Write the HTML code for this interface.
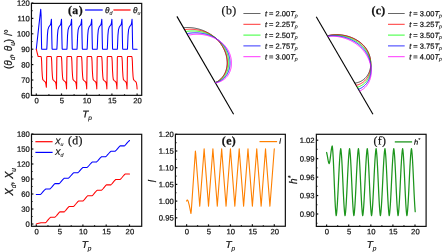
<!DOCTYPE html>
<html lang="en"><head><meta charset="utf-8"><title>Droplet on vibrated inclined plane</title>
<style>html,body{margin:0;padding:0;background:#fff;}body{width:448px;height:252px;overflow:hidden;}svg{display:block;}</style>
</head><body>
<svg width="448" height="252" viewBox="0 0 448 252">
<rect x="0" y="0" width="448" height="252" fill="#fff"/>
<g id="panel-a">
<polyline points="36.3,49.2 38.57,28.41 40.74,9.16 41.09,15.32 41.34,33.8 41.64,48.74 41.84,49.2 46.78,49.2 47.04,44.58 47.39,35.34 47.89,29.95 48.65,27.33 49.66,25.79 50.41,24.87 50.92,23.02 51.42,19.17 51.57,24.56 51.82,38.42 52.08,48.58 52.23,49.2 56.86,49.2 57.12,44.58 57.47,35.34 57.97,29.95 58.73,27.33 59.74,25.79 60.49,24.87 61,23.02 61.5,19.17 61.65,24.56 61.9,38.42 62.16,48.58 62.31,49.2 66.94,49.2 67.2,44.58 67.55,35.34 68.05,29.95 68.81,27.33 69.82,25.79 70.57,24.87 71.08,23.02 71.58,19.17 71.73,24.56 71.98,38.42 72.24,48.58 72.39,49.2 77.02,49.2 77.28,44.58 77.63,35.34 78.13,29.95 78.89,27.33 79.9,25.79 80.65,24.87 81.16,23.02 81.66,19.17 81.81,24.56 82.06,38.42 82.32,48.58 82.47,49.2 87.1,49.2 87.36,44.58 87.71,35.34 88.21,29.95 88.97,27.33 89.98,25.79 90.73,24.87 91.24,23.02 91.74,19.17 91.89,24.56 92.14,38.42 92.4,48.58 92.55,49.2 97.18,49.2 97.44,44.58 97.79,35.34 98.29,29.95 99.05,27.33 100.06,25.79 100.81,24.87 101.32,23.02 101.82,19.17 101.97,24.56 102.22,38.42 102.48,48.58 102.63,49.2 107.26,49.2 107.52,44.58 107.87,35.34 108.37,29.95 109.13,27.33 110.14,25.79 110.89,24.87 111.4,23.02 111.9,19.17 112.05,24.56 112.3,38.42 112.56,48.58 112.71,49.2 117.34,49.2 117.6,44.58 117.95,35.34 118.45,29.95 119.21,27.33 120.22,25.79 120.97,24.87 121.48,23.02 121.98,19.17 122.13,24.56 122.38,38.42 122.64,48.58 122.79,49.2 127.42,49.2 127.68,44.58 128.03,35.34 128.53,29.95 129.29,27.33 130.3,25.79 131.05,24.87 131.56,23.02 132.06,19.17 132.21,24.56 132.46,38.42 132.72,48.58 132.87,49.2 137.1,49.2" fill="none" stroke="#0000ff" stroke-width="1.05" stroke-linejoin="round" stroke-linecap="round"/>
<polyline points="36.3,49.2 37.06,52.28 37.81,55.36 38.22,56.59 41.09,56.59 41.34,57.52 41.64,61.52 41.94,69.99 42.35,76.46 42.75,79.38 43.36,80.31 44.36,81.08 45.17,81.85 45.62,82.77 45.98,84.62 46.23,86.78 46.38,87.24 46.53,80 46.78,57.52 46.98,56.59 51.17,56.59 51.42,57.52 51.72,61.52 52.02,69.99 52.43,76.46 52.83,79.38 53.44,80.31 54.44,81.08 55.25,81.85 55.7,82.77 56.06,84.62 56.31,86.78 56.46,88.93 56.61,80 56.86,57.52 57.06,56.59 61.25,56.59 61.5,57.52 61.8,61.52 62.1,69.99 62.51,76.46 62.91,79.38 63.52,80.31 64.52,81.08 65.33,81.85 65.78,82.77 66.14,84.62 66.39,86.78 66.54,88.93 66.69,80 66.94,57.52 67.14,56.59 71.33,56.59 71.58,57.52 71.88,61.52 72.18,69.99 72.59,76.46 72.99,79.38 73.6,80.31 74.6,81.08 75.41,81.85 75.86,82.77 76.22,84.62 76.47,86.78 76.62,88.93 76.77,80 77.02,57.52 77.22,56.59 81.41,56.59 81.66,57.52 81.96,61.52 82.26,69.99 82.67,76.46 83.07,79.38 83.68,80.31 84.68,81.08 85.49,81.85 85.94,82.77 86.3,84.62 86.55,86.78 86.7,88.93 86.85,80 87.1,57.52 87.3,56.59 91.49,56.59 91.74,57.52 92.04,61.52 92.34,69.99 92.75,76.46 93.15,79.38 93.76,80.31 94.76,81.08 95.57,81.85 96.02,82.77 96.38,84.62 96.63,86.78 96.78,88.93 96.93,80 97.18,57.52 97.38,56.59 101.57,56.59 101.82,57.52 102.12,61.52 102.42,69.99 102.83,76.46 103.23,79.38 103.84,80.31 104.84,81.08 105.65,81.85 106.1,82.77 106.46,84.62 106.71,86.78 106.86,88.93 107.01,80 107.26,57.52 107.46,56.59 111.65,56.59 111.9,57.52 112.2,61.52 112.5,69.99 112.91,76.46 113.31,79.38 113.92,80.31 114.92,81.08 115.73,81.85 116.18,82.77 116.54,84.62 116.79,86.78 116.94,88.93 117.09,80 117.34,57.52 117.54,56.59 121.73,56.59 121.98,57.52 122.28,61.52 122.58,69.99 122.99,76.46 123.39,79.38 124,80.31 125,81.08 125.81,81.85 126.26,82.77 126.62,84.62 126.87,86.78 127.02,88.93 127.17,80 127.42,57.52 127.62,56.59 131.81,56.59 132.06,57.52 132.36,61.52 132.66,69.99 133.07,76.46 133.47,79.38 134.08,80.31 135.08,81.08 135.89,81.85 136.34,82.77 136.7,84.62 136.95,86.78 137.1,88.93" fill="none" stroke="#ff0000" stroke-width="1.05" stroke-linejoin="round" stroke-linecap="round"/>
<rect x="31.45" y="3.4" width="110.25" height="91.95" fill="none" stroke="#101010" stroke-width="1.2"/>
<line x1="36.3" y1="95.35" x2="36.3" y2="93.45" stroke="#101010" stroke-width="1.2" stroke-linecap="butt"/>
<line x1="61.5" y1="95.35" x2="61.5" y2="93.45" stroke="#101010" stroke-width="1.2" stroke-linecap="butt"/>
<line x1="86.7" y1="95.35" x2="86.7" y2="93.45" stroke="#101010" stroke-width="1.2" stroke-linecap="butt"/>
<line x1="111.9" y1="95.35" x2="111.9" y2="93.45" stroke="#101010" stroke-width="1.2" stroke-linecap="butt"/>
<line x1="137.1" y1="95.35" x2="137.1" y2="93.45" stroke="#101010" stroke-width="1.2" stroke-linecap="butt"/>
<line x1="48.9" y1="95.35" x2="48.9" y2="94.25" stroke="#101010" stroke-width="1.2" stroke-linecap="butt"/>
<line x1="74.1" y1="95.35" x2="74.1" y2="94.25" stroke="#101010" stroke-width="1.2" stroke-linecap="butt"/>
<line x1="99.3" y1="95.35" x2="99.3" y2="94.25" stroke="#101010" stroke-width="1.2" stroke-linecap="butt"/>
<line x1="124.5" y1="95.35" x2="124.5" y2="94.25" stroke="#101010" stroke-width="1.2" stroke-linecap="butt"/>
<text x="36.7" y="103.25" font-family='"Liberation Sans", sans-serif' font-size="7.7" text-anchor="middle" fill="#111" stroke="#111" stroke-width="0.22" transform="rotate(0.03 36.7 103.25)">0</text>
<text x="61.9" y="103.25" font-family='"Liberation Sans", sans-serif' font-size="7.7" text-anchor="middle" fill="#111" stroke="#111" stroke-width="0.22" transform="rotate(0.03 61.9 103.25)">5</text>
<text x="87.1" y="103.25" font-family='"Liberation Sans", sans-serif' font-size="7.7" text-anchor="middle" fill="#111" stroke="#111" stroke-width="0.22" transform="rotate(0.03 87.1 103.25)">10</text>
<text x="112.3" y="103.25" font-family='"Liberation Sans", sans-serif' font-size="7.7" text-anchor="middle" fill="#111" stroke="#111" stroke-width="0.22" transform="rotate(0.03 112.3 103.25)">15</text>
<text x="137.5" y="103.25" font-family='"Liberation Sans", sans-serif' font-size="7.7" text-anchor="middle" fill="#111" stroke="#111" stroke-width="0.22" transform="rotate(0.03 137.5 103.25)">20</text>
<line x1="31.45" y1="95.4" x2="33.35" y2="95.4" stroke="#101010" stroke-width="1.2" stroke-linecap="butt"/>
<line x1="31.45" y1="80" x2="33.35" y2="80" stroke="#101010" stroke-width="1.2" stroke-linecap="butt"/>
<line x1="31.45" y1="64.6" x2="33.35" y2="64.6" stroke="#101010" stroke-width="1.2" stroke-linecap="butt"/>
<line x1="31.45" y1="49.2" x2="33.35" y2="49.2" stroke="#101010" stroke-width="1.2" stroke-linecap="butt"/>
<line x1="31.45" y1="33.8" x2="33.35" y2="33.8" stroke="#101010" stroke-width="1.2" stroke-linecap="butt"/>
<line x1="31.45" y1="18.4" x2="33.35" y2="18.4" stroke="#101010" stroke-width="1.2" stroke-linecap="butt"/>
<line x1="31.45" y1="3" x2="33.35" y2="3" stroke="#101010" stroke-width="1.2" stroke-linecap="butt"/>
<line x1="31.45" y1="87.7" x2="32.55" y2="87.7" stroke="#101010" stroke-width="1.2" stroke-linecap="butt"/>
<line x1="31.45" y1="72.3" x2="32.55" y2="72.3" stroke="#101010" stroke-width="1.2" stroke-linecap="butt"/>
<line x1="31.45" y1="56.9" x2="32.55" y2="56.9" stroke="#101010" stroke-width="1.2" stroke-linecap="butt"/>
<line x1="31.45" y1="41.5" x2="32.55" y2="41.5" stroke="#101010" stroke-width="1.2" stroke-linecap="butt"/>
<line x1="31.45" y1="26.1" x2="32.55" y2="26.1" stroke="#101010" stroke-width="1.2" stroke-linecap="butt"/>
<line x1="31.45" y1="10.7" x2="32.55" y2="10.7" stroke="#101010" stroke-width="1.2" stroke-linecap="butt"/>
<text x="29.75" y="98.2" font-family='"Liberation Sans", sans-serif' font-size="7.7" text-anchor="end" fill="#111" stroke="#111" stroke-width="0.22" transform="rotate(0.03 29.75 98.2)">60</text>
<text x="29.75" y="82.8" font-family='"Liberation Sans", sans-serif' font-size="7.7" text-anchor="end" fill="#111" stroke="#111" stroke-width="0.22" transform="rotate(0.03 29.75 82.8)">70</text>
<text x="29.75" y="67.4" font-family='"Liberation Sans", sans-serif' font-size="7.7" text-anchor="end" fill="#111" stroke="#111" stroke-width="0.22" transform="rotate(0.03 29.75 67.4)">80</text>
<text x="29.75" y="52" font-family='"Liberation Sans", sans-serif' font-size="7.7" text-anchor="end" fill="#111" stroke="#111" stroke-width="0.22" transform="rotate(0.03 29.75 52)">90</text>
<text x="29.75" y="36.6" font-family='"Liberation Sans", sans-serif' font-size="7.7" text-anchor="end" fill="#111" stroke="#111" stroke-width="0.22" transform="rotate(0.03 29.75 36.6)">100</text>
<text x="29.75" y="21.2" font-family='"Liberation Sans", sans-serif' font-size="7.7" text-anchor="end" fill="#111" stroke="#111" stroke-width="0.22" transform="rotate(0.03 29.75 21.2)">110</text>
<text x="29.75" y="5.8" font-family='"Liberation Sans", sans-serif' font-size="7.7" text-anchor="end" fill="#111" stroke="#111" stroke-width="0.22" transform="rotate(0.03 29.75 5.8)">120</text>
<text x="87.1" y="117.4" font-family='"Liberation Sans", sans-serif' font-size="10" font-style="italic" text-anchor="middle" fill="#111" stroke="#111" stroke-width="0.22" transform="rotate(0.03 87.1 117.4)">T<tspan font-size="6.5" dy="2.5" stroke-width="0.12">p</tspan></text>
<text x="12.4" y="49.2" font-family='"Liberation Sans", sans-serif' font-size="10" text-anchor="middle" fill="#111" stroke="#111" stroke-width="0.22" transform="rotate(-90 12.4 49.2)">(<tspan font-style="italic">θ</tspan><tspan font-style="italic" font-size="6.4" dy="3" stroke-width="0.12">d</tspan><tspan dy="-3" font-size="1">&#8203;</tspan>, <tspan font-style="italic">θ</tspan><tspan font-style="italic" font-size="6.4" dy="3" stroke-width="0.12">u</tspan><tspan dy="-3" font-size="1">&#8203;</tspan>) /°</text>
<text x="68" y="13.9" font-family='"Liberation Serif", serif' font-size="11.8" letter-spacing="0.4" fill="#111" font-weight="bold" stroke="#111" stroke-width="0.25" transform="rotate(0.03 68 13.9)">(a)</text>
<line x1="85.1" y1="10" x2="102.7" y2="10" stroke="#0000ff" stroke-width="1.2" stroke-linecap="butt"/>
<text x="105.1" y="13" font-family='"Liberation Sans", sans-serif' font-size="8.2" font-style="italic" fill="#111" stroke="#111" stroke-width="0.22" transform="rotate(0.03 105.1 13)">θ<tspan font-size="5.25" dy="1.8" stroke-width="0.1">d</tspan></text>
<line x1="113.4" y1="10" x2="130.6" y2="10" stroke="#ff0000" stroke-width="1.2" stroke-linecap="butt"/>
<text x="133" y="13" font-family='"Liberation Sans", sans-serif' font-size="8.2" font-style="italic" fill="#111" stroke="#111" stroke-width="0.22" transform="rotate(0.03 133 13)">θ<tspan font-size="5.25" dy="1.8" stroke-width="0.1">u</tspan></text>
</g>
<g id="panel-b">
<line x1="176.9" y1="16.4" x2="233.6" y2="114.3" stroke="#000" stroke-width="1.1" stroke-linecap="butt"/>
<polyline points="183.79,27.71 184.34,27.66 184.88,27.62 185.42,27.59 185.97,27.56 186.52,27.55 187.06,27.54 187.61,27.53 188.15,27.54 188.7,27.55 189.24,27.57 189.79,27.6 190.33,27.63 190.88,27.67 191.42,27.72 191.96,27.77 192.51,27.83 193.05,27.9 193.59,27.98 194.13,28.06 194.67,28.15 195.2,28.25 195.74,28.35 196.27,28.46 196.81,28.58 197.34,28.7 197.87,28.83 198.4,28.96 198.92,29.11 199.45,29.26 199.97,29.41 200.49,29.58 201.01,29.75 201.53,29.92 202.04,30.11 202.55,30.29 203.06,30.49 203.57,30.69 204.07,30.9 204.58,31.11 205.07,31.33 205.57,31.56 206.06,31.8 206.55,32.04 207.04,32.28 207.53,32.53 208.01,32.79 208.48,33.06 208.96,33.33 209.43,33.61 209.89,33.89 210.36,34.18 210.81,34.47 211.27,34.78 211.72,35.08 212.17,35.4 212.61,35.72 213.05,36.04 213.48,36.38 213.91,36.71 214.33,37.06 214.75,37.41 215.16,37.76 215.57,38.12 215.98,38.49 216.37,38.87 216.77,39.24 217.15,39.63 217.54,40.02 217.91,40.41 218.28,40.82 218.65,41.22 219,41.63 219.35,42.05 219.7,42.47 220.04,42.9 220.37,43.34 220.69,43.77 221.01,44.22 221.32,44.67 221.63,45.12 221.93,45.58 222.22,46.04 222.5,46.51 222.77,46.98 223.04,47.45 223.3,47.93 223.55,48.42 223.79,48.91 224.03,49.4 224.26,49.89 224.48,50.39 224.69,50.9 224.89,51.4 225.09,51.91 225.28,52.42 225.45,52.94 225.63,53.46 225.79,53.98 225.94,54.5 226.09,55.03 226.22,55.56 226.35,56.09 226.47,56.62 226.58,57.16 226.68,57.69 226.77,58.23 226.85,58.77 226.92,59.31 226.98,59.85 227.03,60.4 227.08,60.94 227.11,61.49 227.13,62.03 227.14,62.58 227.14,63.12 227.13,63.67 227.11,64.21 227.08,64.76 227.03,65.3 226.98,65.84 226.91,66.39 226.83,66.93 226.74,67.46 226.64,68 226.52,68.53 226.39,69.06 226.25,69.59 226.1,70.12 225.93,70.64 225.76,71.15 225.57,71.66 225.36,72.17 225.15,72.67 224.92,73.17 224.68,73.65 224.42,74.14 224.16,74.61 223.88,75.08 223.58,75.54 223.28,76 222.96,76.44 222.63,76.87 222.29,77.3 221.94,77.72 221.57,78.12 221.2,78.52 220.81,78.9 220.41,79.28 220,79.64 219.59,79.99 219.16,80.33 218.72,80.66 218.28,80.97 217.82,81.27 217.36,81.56 216.89,81.84 216.41,82.11 215.93,82.36 215.44,82.6" fill="none" stroke="#000000" stroke-width="0.7" stroke-linejoin="round" stroke-linecap="butt"/>
<polyline points="184.92,29.61 185.46,29.54 186,29.48 186.54,29.43 187.08,29.38 187.63,29.35 188.17,29.32 188.71,29.3 189.26,29.28 189.8,29.27 190.35,29.27 190.89,29.28 191.44,29.3 191.98,29.32 192.52,29.35 193.07,29.38 193.61,29.42 194.15,29.47 194.68,29.52 195.22,29.58 195.75,29.65 196.28,29.72 196.81,29.79 197.34,29.88 197.87,29.96 198.39,30.06 198.91,30.16 199.43,30.27 199.95,30.38 200.47,30.5 200.98,30.63 201.49,30.76 202,30.9 202.5,31.05 203.01,31.2 203.51,31.36 204.01,31.53 204.5,31.7 204.99,31.88 205.48,32.06 205.97,32.26 206.45,32.46 206.93,32.66 207.4,32.87 207.88,33.09 208.35,33.32 208.81,33.55 209.27,33.79 209.73,34.04 210.19,34.29 210.64,34.55 211.09,34.81 211.53,35.09 211.97,35.37 212.41,35.65 212.84,35.95 213.27,36.25 213.69,36.55 214.11,36.87 214.52,37.19 214.93,37.52 215.34,37.85 215.74,38.19 216.13,38.54 216.53,38.89 216.91,39.25 217.29,39.62 217.67,39.99 218.04,40.37 218.41,40.76 218.77,41.15 219.12,41.55 219.47,41.95 219.82,42.36 220.16,42.78 220.49,43.2 220.82,43.63 221.14,44.07 221.46,44.51 221.77,44.96 222.07,45.41 222.37,45.87 222.66,46.33 222.94,46.8 223.21,47.27 223.48,47.75 223.74,48.23 223.99,48.71 224.23,49.2 224.46,49.69 224.69,50.19 224.91,50.69 225.12,51.2 225.32,51.7 225.51,52.21 225.69,52.73 225.87,53.24 226.04,53.76 226.2,54.28 226.35,54.81 226.49,55.34 226.62,55.87 226.74,56.4 226.86,56.93 226.96,57.47 227.06,58 227.14,58.54 227.22,59.08 227.28,59.62 227.34,60.17 227.39,60.71 227.42,61.25 227.45,61.8 227.46,62.34 227.47,62.89 227.46,63.43 227.45,63.98 227.42,64.52 227.38,65.07 227.33,65.61 227.26,66.15 227.19,66.69 227.1,67.23 227,67.76 226.89,68.3 226.77,68.83 226.63,69.36 226.48,69.88 226.32,70.4 226.15,70.92 225.96,71.43 225.76,71.94 225.55,72.44 225.33,72.93 225.09,73.42 224.84,73.91 224.58,74.39 224.3,74.85 224.01,75.32 223.71,75.77 223.4,76.22 223.07,76.65 222.73,77.08 222.38,77.5 222.02,77.9 221.65,78.3 221.27,78.68 220.87,79.06 220.47,79.42 220.05,79.77 219.63,80.11 219.19,80.44 218.75,80.76 218.3,81.06 217.84,81.35 217.37,81.63 216.9,81.89 216.42,82.15 215.93,82.39 215.44,82.61" fill="none" stroke="#ff0000" stroke-width="0.85" stroke-linejoin="round" stroke-linecap="butt"/>
<polyline points="186.04,31.52 186.58,31.43 187.12,31.34 187.65,31.27 188.2,31.21 188.74,31.15 189.28,31.1 189.82,31.06 190.36,31.02 190.91,31 191.45,30.98 192,30.97 192.54,30.97 193.09,30.97 193.63,30.98 194.17,31 194.71,31.02 195.25,31.06 195.79,31.09 196.33,31.14 196.87,31.19 197.41,31.24 197.94,31.31 198.47,31.38 199.01,31.45 199.54,31.53 200.06,31.62 200.59,31.72 201.11,31.82 201.64,31.93 202.16,32.05 202.68,32.17 203.19,32.3 203.71,32.43 204.22,32.58 204.73,32.72 205.23,32.88 205.74,33.04 206.24,33.21 206.74,33.39 207.24,33.57 207.73,33.76 208.22,33.96 208.71,34.16 209.19,34.37 209.67,34.59 210.15,34.81 210.63,35.04 211.1,35.28 211.57,35.52 212.03,35.77 212.49,36.03 212.95,36.3 213.4,36.57 213.85,36.85 214.29,37.13 214.73,37.43 215.17,37.73 215.6,38.03 216.03,38.35 216.45,38.67 216.87,39 217.28,39.33 217.69,39.67 218.09,40.02 218.49,40.38 218.88,40.74 219.27,41.11 219.65,41.48 220.02,41.87 220.39,42.26 220.76,42.65 221.11,43.05 221.46,43.46 221.81,43.88 222.15,44.3 222.48,44.73 222.8,45.16 223.12,45.6 223.43,46.05 223.74,46.5 224.03,46.96 224.32,47.43 224.6,47.89 224.87,48.37 225.13,48.85 225.39,49.33 225.63,49.82 225.87,50.31 226.09,50.81 226.31,51.31 226.52,51.81 226.72,52.32 226.91,52.83 227.09,53.34 227.27,53.86 227.43,54.38 227.58,54.9 227.73,55.43 227.86,55.96 227.99,56.49 228.11,57.02 228.21,57.55 228.31,58.09 228.4,58.63 228.47,59.17 228.54,59.71 228.6,60.25 228.64,60.79 228.68,61.34 228.71,61.88 228.72,62.42 228.72,62.97 228.71,63.51 228.7,64.06 228.67,64.6 228.62,65.14 228.57,65.68 228.5,66.22 228.43,66.76 228.34,67.3 228.23,67.83 228.12,68.36 227.99,68.89 227.85,69.42 227.7,69.94 227.53,70.46 227.35,70.97 227.16,71.48 226.95,71.98 226.74,72.48 226.5,72.97 226.26,73.45 226,73.93 225.73,74.4 225.45,74.86 225.15,75.31 224.85,75.76 224.52,76.2 224.19,76.62 223.85,77.04 223.49,77.45 223.12,77.84 222.74,78.23 222.35,78.6 221.95,78.96 221.53,79.31 221.11,79.65 220.68,79.97 220.24,80.28 219.79,80.58 219.33,80.86 218.86,81.13 218.39,81.39 217.91,81.63 217.42,81.86 216.93,82.08 216.43,82.28 215.92,82.47 215.41,82.65" fill="none" stroke="#00ff00" stroke-width="0.85" stroke-linejoin="round" stroke-linecap="butt"/>
<polyline points="187.3,33.65 187.83,33.54 188.37,33.43 188.9,33.33 189.44,33.25 189.98,33.17 190.52,33.09 191.06,33.03 191.6,32.98 192.15,32.93 192.69,32.89 193.23,32.86 193.78,32.84 194.32,32.82 194.87,32.81 195.41,32.81 195.95,32.82 196.5,32.83 197.04,32.85 197.58,32.87 198.12,32.9 198.66,32.94 199.19,32.99 199.73,33.04 200.27,33.1 200.8,33.17 201.33,33.24 201.86,33.32 202.39,33.41 202.92,33.5 203.45,33.6 203.97,33.71 204.5,33.82 205.02,33.94 205.53,34.07 206.05,34.2 206.56,34.34 207.08,34.49 207.59,34.65 208.09,34.81 208.6,34.98 209.1,35.15 209.6,35.34 210.09,35.53 210.59,35.72 211.08,35.93 211.57,36.14 212.05,36.36 212.53,36.58 213.01,36.81 213.48,37.05 213.95,37.3 214.42,37.55 214.88,37.82 215.34,38.08 215.79,38.36 216.24,38.64 216.69,38.93 217.13,39.23 217.57,39.54 218,39.85 218.42,40.17 218.85,40.49 219.26,40.83 219.68,41.17 220.08,41.52 220.48,41.87 220.88,42.24 221.26,42.61 221.65,42.98 222.02,43.37 222.39,43.76 222.76,44.16 223.11,44.57 223.46,44.98 223.8,45.4 224.14,45.82 224.47,46.26 224.79,46.7 225.1,47.14 225.4,47.6 225.7,48.06 225.99,48.52 226.26,48.99 226.53,49.47 226.79,49.95 227.04,50.43 227.28,50.92 227.51,51.42 227.73,51.92 227.94,52.42 228.14,52.93 228.33,53.44 228.51,53.95 228.68,54.47 228.84,54.99 228.99,55.52 229.13,56.04 229.26,56.57 229.38,57.1 229.49,57.64 229.59,58.17 229.69,58.71 229.77,59.25 229.83,59.79 229.89,60.33 229.94,60.87 229.98,61.42 230,61.96 230.02,62.51 230.02,63.05 230.02,63.6 230,64.14 229.97,64.68 229.92,65.23 229.87,65.77 229.8,66.31 229.72,66.85 229.63,67.38 229.53,67.92 229.41,68.45 229.28,68.97 229.13,69.5 228.98,70.02 228.81,70.54 228.63,71.05 228.43,71.55 228.22,72.06 227.99,72.55 227.76,73.04 227.51,73.52 227.24,73.99 226.97,74.46 226.68,74.92 226.38,75.37 226.06,75.81 225.73,76.24 225.39,76.66 225.04,77.08 224.67,77.48 224.3,77.86 223.91,78.24 223.51,78.61 223.1,78.96 222.67,79.3 222.24,79.62 221.8,79.94 221.35,80.23 220.89,80.52 220.42,80.79 219.95,81.04 219.46,81.29 218.97,81.51 218.48,81.72 217.97,81.92 217.47,82.1 216.95,82.27 216.44,82.42 215.91,82.56 215.39,82.68" fill="none" stroke="#0000ff" stroke-width="0.85" stroke-linejoin="round" stroke-linecap="butt"/>
<polyline points="188.29,35.33 188.82,35.19 189.35,35.07 189.89,34.95 190.42,34.85 190.96,34.75 191.5,34.66 192.04,34.58 192.58,34.51 193.12,34.45 193.66,34.39 194.2,34.34 194.75,34.3 195.29,34.27 195.84,34.25 196.38,34.23 196.93,34.23 197.47,34.23 198.02,34.23 198.57,34.25 199.11,34.27 199.66,34.3 200.2,34.34 200.74,34.38 201.29,34.44 201.83,34.49 202.37,34.56 202.91,34.63 203.45,34.71 203.99,34.8 204.53,34.9 205.06,35 205.6,35.11 206.13,35.22 206.66,35.35 207.19,35.48 207.72,35.62 208.25,35.76 208.77,35.91 209.29,36.07 209.81,36.23 210.33,36.41 210.85,36.59 211.36,36.77 211.87,36.97 212.38,37.17 212.88,37.37 213.38,37.59 213.88,37.81 214.38,38.04 214.87,38.28 215.36,38.52 215.84,38.77 216.32,39.03 216.8,39.29 217.27,39.57 217.74,39.85 218.2,40.13 218.66,40.43 219.12,40.73 219.57,41.04 220.01,41.36 220.45,41.68 220.88,42.01 221.31,42.35 221.73,42.7 222.15,43.05 222.55,43.41 222.96,43.78 223.35,44.16 223.74,44.54 224.12,44.93 224.49,45.33 224.86,45.73 225.22,46.15 225.57,46.57 225.91,46.99 226.24,47.42 226.56,47.86 226.88,48.31 227.18,48.76 227.48,49.22 227.76,49.69 228.03,50.16 228.3,50.64 228.55,51.12 228.8,51.61 229.03,52.1 229.25,52.6 229.46,53.1 229.67,53.61 229.86,54.12 230.04,54.63 230.21,55.15 230.37,55.67 230.52,56.2 230.65,56.73 230.78,57.26 230.9,57.79 231,58.33 231.1,58.86 231.18,59.4 231.25,59.94 231.32,60.49 231.37,61.03 231.41,61.57 231.44,62.12 231.45,62.66 231.46,63.21 231.45,63.75 231.43,64.3 231.4,64.84 231.36,65.39 231.3,65.93 231.23,66.47 231.15,67.01 231.06,67.55 230.95,68.08 230.83,68.62 230.7,69.15 230.55,69.67 230.39,70.19 230.22,70.71 230.03,71.22 229.83,71.73 229.62,72.23 229.39,72.73 229.14,73.21 228.89,73.7 228.62,74.17 228.33,74.64 228.03,75.09 227.72,75.54 227.4,75.98 227.06,76.41 226.71,76.83 226.35,77.23 225.97,77.63 225.58,78.01 225.18,78.38 224.77,78.74 224.35,79.09 223.92,79.42 223.47,79.74 223.02,80.04 222.56,80.33 222.09,80.6 221.61,80.86 221.12,81.1 220.62,81.33 220.12,81.54 219.61,81.74 219.09,81.91 218.57,82.08 218.05,82.22 217.52,82.35 216.98,82.47 216.45,82.57 215.91,82.65 215.37,82.72" fill="none" stroke="#ff00ff" stroke-width="0.85" stroke-linejoin="round" stroke-linecap="butt"/>
<text x="221.6" y="14.3" font-family='"Liberation Serif", serif' font-size="11.8" letter-spacing="0.4" fill="#111" stroke="#111" stroke-width="0.2" transform="rotate(0.03 221.6 14.3)">(b)</text>
<line x1="243.4" y1="13.5" x2="260.5" y2="13.5" stroke="#000000" stroke-width="0.6" stroke-linecap="butt"/>
<text x="264.9" y="16.3" font-family='"Liberation Sans", sans-serif' font-size="7.5" fill="#111" stroke="#111" stroke-width="0.22" transform="rotate(0.03 264.9 16.3)"><tspan font-style="italic">t</tspan> = 2.00<tspan font-style="italic">T</tspan><tspan font-style="italic" font-size="5.25" dy="1.2" stroke-width="0.1">p</tspan></text>
<line x1="243.4" y1="24.3" x2="260.5" y2="24.3" stroke="#ff0000" stroke-width="0.8" stroke-linecap="butt"/>
<text x="264.9" y="27.1" font-family='"Liberation Sans", sans-serif' font-size="7.5" fill="#111" stroke="#111" stroke-width="0.22" transform="rotate(0.03 264.9 27.1)"><tspan font-style="italic">t</tspan> = 2.25<tspan font-style="italic">T</tspan><tspan font-style="italic" font-size="5.25" dy="1.2" stroke-width="0.1">p</tspan></text>
<line x1="243.4" y1="35.1" x2="260.5" y2="35.1" stroke="#00ff00" stroke-width="0.8" stroke-linecap="butt"/>
<text x="264.9" y="37.9" font-family='"Liberation Sans", sans-serif' font-size="7.5" fill="#111" stroke="#111" stroke-width="0.22" transform="rotate(0.03 264.9 37.9)"><tspan font-style="italic">t</tspan> = 2.50<tspan font-style="italic">T</tspan><tspan font-style="italic" font-size="5.25" dy="1.2" stroke-width="0.1">p</tspan></text>
<line x1="243.4" y1="45.9" x2="260.5" y2="45.9" stroke="#0000ff" stroke-width="0.8" stroke-linecap="butt"/>
<text x="264.9" y="48.7" font-family='"Liberation Sans", sans-serif' font-size="7.5" fill="#111" stroke="#111" stroke-width="0.22" transform="rotate(0.03 264.9 48.7)"><tspan font-style="italic">t</tspan> = 2.75<tspan font-style="italic">T</tspan><tspan font-style="italic" font-size="5.25" dy="1.2" stroke-width="0.1">p</tspan></text>
<line x1="243.4" y1="56.7" x2="260.5" y2="56.7" stroke="#ff00ff" stroke-width="0.8" stroke-linecap="butt"/>
<text x="264.9" y="59.5" font-family='"Liberation Sans", sans-serif' font-size="7.5" fill="#111" stroke="#111" stroke-width="0.22" transform="rotate(0.03 264.9 59.5)"><tspan font-style="italic">t</tspan> = 3.00<tspan font-style="italic">T</tspan><tspan font-style="italic" font-size="5.25" dy="1.2" stroke-width="0.1">p</tspan></text>
</g>
<g id="panel-c">
<line x1="316.25" y1="16.8" x2="372.95" y2="114.3" stroke="#000" stroke-width="1.1" stroke-linecap="butt"/>
<polyline points="327.64,35.73 328.17,35.59 328.7,35.47 329.24,35.35 329.77,35.25 330.31,35.15 330.85,35.06 331.39,34.98 331.93,34.91 332.47,34.85 333.01,34.79 333.55,34.74 334.1,34.7 334.64,34.67 335.19,34.65 335.73,34.63 336.28,34.63 336.82,34.63 337.37,34.63 337.92,34.65 338.46,34.67 339.01,34.7 339.55,34.74 340.09,34.78 340.64,34.84 341.18,34.89 341.72,34.96 342.26,35.03 342.8,35.11 343.34,35.2 343.88,35.3 344.41,35.4 344.95,35.51 345.48,35.62 346.01,35.75 346.54,35.88 347.07,36.02 347.6,36.16 348.12,36.31 348.64,36.47 349.16,36.63 349.68,36.81 350.2,36.99 350.71,37.17 351.22,37.37 351.73,37.57 352.23,37.77 352.73,37.99 353.23,38.21 353.73,38.44 354.22,38.68 354.71,38.92 355.19,39.17 355.67,39.43 356.15,39.69 356.62,39.97 357.09,40.25 357.55,40.53 358.01,40.83 358.47,41.13 358.92,41.44 359.36,41.76 359.8,42.08 360.23,42.41 360.66,42.75 361.08,43.1 361.5,43.45 361.9,43.81 362.31,44.18 362.7,44.56 363.09,44.94 363.47,45.33 363.84,45.73 364.21,46.13 364.57,46.55 364.92,46.97 365.26,47.39 365.59,47.82 365.91,48.26 366.23,48.71 366.53,49.16 366.83,49.62 367.11,50.09 367.38,50.56 367.65,51.04 367.9,51.52 368.15,52.01 368.38,52.5 368.6,53 368.81,53.5 369.02,54.01 369.21,54.52 369.39,55.03 369.56,55.55 369.72,56.07 369.87,56.6 370,57.13 370.13,57.66 370.25,58.19 370.35,58.73 370.45,59.26 370.53,59.8 370.6,60.34 370.67,60.89 370.72,61.43 370.76,61.97 370.79,62.52 370.8,63.06 370.81,63.61 370.8,64.15 370.78,64.7 370.75,65.24 370.71,65.79 370.65,66.33 370.58,66.87 370.5,67.41 370.41,67.95 370.3,68.48 370.18,69.02 370.05,69.55 369.9,70.07 369.74,70.59 369.57,71.11 369.38,71.62 369.18,72.13 368.97,72.63 368.74,73.13 368.49,73.61 368.24,74.1 367.97,74.57 367.68,75.04 367.38,75.49 367.07,75.94 366.75,76.38 366.41,76.81 366.06,77.23 365.7,77.63 365.32,78.03 364.93,78.41 364.53,78.78 364.12,79.14 363.7,79.49 363.27,79.82 362.82,80.14 362.37,80.44 361.91,80.73 361.44,81 360.96,81.26 360.47,81.5 359.97,81.73 359.47,81.94 358.96,82.14 358.44,82.31 357.92,82.48 357.4,82.62 356.87,82.75 356.33,82.87 355.8,82.97 355.26,83.05 354.72,83.12" fill="none" stroke="#000000" stroke-width="0.7" stroke-linejoin="round" stroke-linecap="butt"/>
<polyline points="327.66,35.77 328.19,35.65 328.72,35.53 329.26,35.42 329.79,35.32 330.33,35.23 330.87,35.15 331.41,35.07 331.95,35.01 332.49,34.95 333.04,34.9 333.58,34.86 334.13,34.83 334.67,34.8 335.21,34.78 335.76,34.77 336.31,34.77 336.85,34.78 337.4,34.79 337.94,34.81 338.49,34.84 339.03,34.87 339.57,34.92 340.12,34.97 340.66,35.02 341.2,35.09 341.74,35.16 342.28,35.24 342.82,35.32 343.36,35.41 343.89,35.51 344.43,35.62 344.96,35.74 345.49,35.86 346.02,35.98 346.55,36.12 347.08,36.26 347.6,36.41 348.12,36.57 348.65,36.73 349.16,36.9 349.68,37.07 350.19,37.26 350.7,37.45 351.21,37.65 351.72,37.85 352.22,38.06 352.72,38.28 353.22,38.51 353.71,38.74 354.2,38.98 354.69,39.23 355.17,39.48 355.65,39.74 356.12,40.01 356.59,40.29 357.06,40.57 357.52,40.86 357.98,41.16 358.43,41.46 358.88,41.78 359.32,42.1 359.76,42.42 360.19,42.76 360.61,43.1 361.03,43.45 361.45,43.8 361.85,44.17 362.25,44.54 362.65,44.91 363.03,45.3 363.41,45.69 363.79,46.09 364.15,46.5 364.51,46.91 364.85,47.33 365.19,47.76 365.52,48.2 365.85,48.65 366.16,49.1 366.46,49.56 366.75,50.02 367.04,50.5 367.31,50.98 367.58,51.46 367.83,51.96 368.07,52.45 368.31,52.96 368.53,53.47 368.74,53.98 368.94,54.5 369.14,55.02 369.32,55.55 369.49,56.08 369.65,56.61 369.8,57.15 369.95,57.69 370.08,58.24 370.2,58.78 370.31,59.33 370.41,59.88 370.5,60.44 370.58,60.99 370.65,61.55 370.71,62.11 370.76,62.66 370.8,63.22 370.83,63.79 370.84,64.35 370.85,64.91 370.84,65.47 370.83,66.03 370.8,66.59 370.76,67.15 370.71,67.71 370.65,68.27 370.57,68.82 370.49,69.37 370.39,69.92 370.28,70.47 370.16,71.02 370.02,71.56 369.87,72.09 369.71,72.63 369.54,73.16 369.35,73.68 369.15,74.2 368.94,74.71 368.71,75.21 368.47,75.71 368.22,76.2 367.95,76.68 367.67,77.16 367.38,77.62 367.08,78.08 366.76,78.53 366.43,78.96 366.09,79.39 365.74,79.8 365.37,80.2 364.99,80.59 364.6,80.97 364.2,81.34 363.78,81.69 363.36,82.02 362.92,82.35 362.48,82.65 362.02,82.95 361.56,83.22 361.09,83.49 360.61,83.74 360.12,83.97 359.62,84.19 359.12,84.39 358.62,84.58 358.11,84.76 357.59,84.91 357.07,85.06 356.55,85.19 356.02,85.3" fill="none" stroke="#ff0000" stroke-width="0.85" stroke-linejoin="round" stroke-linecap="butt"/>
<polyline points="327.74,35.95 328.27,35.85 328.81,35.75 329.35,35.67 329.88,35.6 330.42,35.53 330.97,35.47 331.51,35.42 332.05,35.38 332.59,35.34 333.14,35.31 333.68,35.3 334.23,35.28 334.77,35.28 335.31,35.28 335.86,35.29 336.4,35.31 336.95,35.34 337.49,35.37 338.03,35.41 338.58,35.46 339.12,35.52 339.66,35.58 340.2,35.65 340.74,35.72 341.28,35.81 341.81,35.9 342.35,36 342.89,36.1 343.42,36.21 343.95,36.33 344.48,36.45 345.01,36.59 345.54,36.73 346.06,36.87 346.58,37.02 347.1,37.18 347.62,37.35 348.14,37.52 348.66,37.7 349.17,37.89 349.68,38.08 350.18,38.28 350.69,38.49 351.19,38.7 351.69,38.92 352.18,39.15 352.68,39.38 353.16,39.62 353.65,39.87 354.13,40.13 354.61,40.39 355.08,40.65 355.56,40.93 356.02,41.21 356.49,41.5 356.94,41.79 357.4,42.1 357.85,42.4 358.29,42.72 358.73,43.04 359.17,43.37 359.59,43.71 360.02,44.05 360.44,44.4 360.85,44.76 361.26,45.12 361.66,45.49 362.05,45.87 362.44,46.25 362.82,46.64 363.2,47.04 363.56,47.44 363.92,47.85 364.28,48.27 364.62,48.69 364.96,49.12 365.29,49.56 365.61,50.01 365.92,50.46 366.22,50.92 366.52,51.38 366.8,51.85 367.08,52.33 367.35,52.81 367.6,53.3 367.85,53.79 368.09,54.29 368.32,54.79 368.54,55.3 368.75,55.81 368.95,56.33 369.14,56.84 369.33,57.37 369.5,57.9 369.66,58.43 369.82,58.96 369.96,59.5 370.1,60.04 370.22,60.58 370.34,61.12 370.44,61.67 370.54,62.22 370.62,62.77 370.7,63.32 370.77,63.87 370.82,64.42 370.87,64.98 370.9,65.53 370.93,66.09 370.94,66.65 370.94,67.2 370.94,67.76 370.92,68.32 370.89,68.87 370.85,69.42 370.79,69.98 370.73,70.53 370.65,71.08 370.57,71.63 370.47,72.17 370.35,72.71 370.23,73.25 370.09,73.79 369.94,74.32 369.78,74.85 369.61,75.37 369.42,75.89 369.22,76.4 369,76.91 368.78,77.41 368.54,77.9 368.28,78.39 368.02,78.87 367.74,79.34 367.45,79.8 367.15,80.25 366.83,80.69 366.5,81.13 366.16,81.55 365.81,81.96 365.44,82.36 365.06,82.75 364.68,83.13 364.28,83.49 363.86,83.84 363.44,84.18 363.01,84.51 362.57,84.82 362.12,85.11 361.66,85.4 361.19,85.67 360.72,85.92 360.24,86.17 359.75,86.39 359.25,86.61 358.75,86.81 358.25,86.99 357.74,87.17 357.23,87.32" fill="none" stroke="#00ff00" stroke-width="0.85" stroke-linejoin="round" stroke-linecap="butt"/>
<polyline points="327.81,36.12 328.35,36.05 328.89,35.98 329.43,35.92 329.97,35.87 330.52,35.83 331.06,35.79 331.6,35.76 332.15,35.74 332.69,35.73 333.24,35.73 333.78,35.73 334.33,35.74 334.87,35.76 335.41,35.78 335.96,35.82 336.5,35.86 337.04,35.9 337.59,35.96 338.13,36.02 338.67,36.08 339.21,36.16 339.75,36.24 340.28,36.33 340.82,36.43 341.36,36.53 341.89,36.64 342.42,36.76 342.95,36.88 343.48,37.01 344.01,37.14 344.53,37.29 345.06,37.44 345.58,37.6 346.1,37.76 346.62,37.93 347.13,38.11 347.65,38.29 348.16,38.48 348.66,38.68 349.17,38.88 349.67,39.09 350.17,39.3 350.67,39.53 351.17,39.76 351.66,39.99 352.15,40.23 352.63,40.48 353.11,40.74 353.59,41 354.06,41.27 354.54,41.54 355,41.83 355.47,42.11 355.92,42.41 356.38,42.71 356.83,43.02 357.28,43.33 357.72,43.65 358.15,43.98 358.59,44.31 359.01,44.65 359.43,44.99 359.85,45.34 360.26,45.7 360.67,46.07 361.07,46.44 361.46,46.82 361.85,47.2 362.23,47.59 362.61,47.98 362.98,48.39 363.34,48.79 363.7,49.21 364.04,49.63 364.39,50.05 364.72,50.49 365.05,50.92 365.37,51.37 365.68,51.82 365.98,52.28 366.28,52.74 366.57,53.2 366.85,53.68 367.12,54.15 367.38,54.64 367.63,55.12 367.88,55.62 368.11,56.11 368.34,56.62 368.56,57.12 368.77,57.63 368.97,58.14 369.16,58.66 369.35,59.18 369.52,59.7 369.69,60.23 369.85,60.76 369.99,61.29 370.13,61.82 370.26,62.36 370.38,62.9 370.49,63.44 370.6,63.98 370.69,64.53 370.77,65.07 370.84,65.62 370.91,66.17 370.96,66.72 371,67.27 371.04,67.82 371.06,68.38 371.07,68.93 371.08,69.48 371.07,70.03 371.05,70.58 371.02,71.13 370.97,71.68 370.92,72.23 370.85,72.78 370.78,73.33 370.69,73.87 370.59,74.41 370.47,74.95 370.35,75.49 370.21,76.02 370.06,76.55 369.9,77.07 369.72,77.59 369.53,78.11 369.33,78.61 369.12,79.12 368.89,79.62 368.65,80.11 368.4,80.59 368.14,81.07 367.86,81.54 367.57,82 367.27,82.45 366.95,82.9 366.62,83.33 366.28,83.76 365.93,84.17 365.57,84.57 365.19,84.96 364.81,85.34 364.41,85.71 364,86.07 363.58,86.41 363.15,86.74 362.72,87.06 362.27,87.37 361.81,87.66 361.35,87.94 360.88,88.21 360.4,88.46 359.92,88.7 359.43,88.93 358.93,89.14 358.43,89.34" fill="none" stroke="#0000ff" stroke-width="0.85" stroke-linejoin="round" stroke-linecap="butt"/>
<polyline points="327.89,36.31 328.44,36.26 328.98,36.22 329.52,36.19 330.07,36.16 330.62,36.15 331.16,36.14 331.71,36.13 332.25,36.14 332.8,36.15 333.34,36.17 333.89,36.2 334.43,36.23 334.98,36.27 335.52,36.32 336.06,36.37 336.61,36.43 337.15,36.5 337.69,36.58 338.23,36.66 338.77,36.75 339.3,36.85 339.84,36.95 340.37,37.06 340.91,37.18 341.44,37.3 341.97,37.43 342.5,37.56 343.02,37.71 343.55,37.86 344.07,38.01 344.59,38.18 345.11,38.35 345.63,38.52 346.14,38.71 346.65,38.89 347.16,39.09 347.67,39.29 348.17,39.5 348.68,39.71 349.17,39.93 349.67,40.16 350.16,40.4 350.65,40.64 351.14,40.88 351.63,41.13 352.11,41.39 352.58,41.66 353.06,41.93 353.53,42.21 353.99,42.49 354.46,42.78 354.91,43.07 355.37,43.38 355.82,43.68 356.27,44 356.71,44.32 357.15,44.64 357.58,44.98 358.01,45.31 358.43,45.66 358.85,46.01 359.26,46.36 359.67,46.72 360.08,47.09 360.47,47.47 360.87,47.84 361.25,48.23 361.64,48.62 362.01,49.01 362.38,49.42 362.75,49.82 363.1,50.23 363.45,50.65 363.8,51.07 364.14,51.5 364.47,51.94 364.79,52.37 365.11,52.82 365.42,53.27 365.73,53.72 366.03,54.18 366.32,54.64 366.6,55.11 366.87,55.58 367.14,56.05 367.4,56.53 367.65,57.02 367.89,57.51 368.13,58 368.36,58.49 368.58,58.99 368.79,59.5 368.99,60 369.19,60.51 369.38,61.02 369.55,61.54 369.73,62.06 369.89,62.58 370.04,63.1 370.19,63.63 370.32,64.16 370.45,64.69 370.57,65.22 370.68,65.76 370.78,66.29 370.87,66.83 370.95,67.37 371.02,67.91 371.08,68.45 371.13,69 371.18,69.54 371.21,70.09 371.23,70.63 371.24,71.18 371.24,71.72 371.23,72.27 371.21,72.81 371.18,73.36 371.13,73.9 371.08,74.44 371.01,74.99 370.93,75.53 370.84,76.06 370.74,76.6 370.62,77.13 370.49,77.66 370.35,78.19 370.2,78.72 370.03,79.24 369.86,79.75 369.67,80.26 369.46,80.77 369.25,81.27 369.02,81.77 368.78,82.25 368.52,82.74 368.26,83.21 367.98,83.68 367.68,84.14 367.38,84.6 367.06,85.04 366.73,85.47 366.39,85.9 366.04,86.32 365.67,86.72 365.3,87.12 364.91,87.5 364.51,87.88 364.1,88.24 363.69,88.59 363.26,88.93 362.82,89.26 362.38,89.57 361.92,89.87 361.46,90.16 360.99,90.44 360.51,90.71 360.03,90.96 359.54,91.2" fill="none" stroke="#ff00ff" stroke-width="0.85" stroke-linejoin="round" stroke-linecap="butt"/>
<text x="371.4" y="14.3" font-family='"Liberation Serif", serif' font-size="11.8" letter-spacing="0.4" fill="#111" font-weight="bold" stroke="#111" stroke-width="0.25" transform="rotate(0.03 371.4 14.3)">(c)</text>
<line x1="388" y1="13.5" x2="404.7" y2="13.5" stroke="#000000" stroke-width="0.6" stroke-linecap="butt"/>
<text x="409.2" y="16.3" font-family='"Liberation Sans", sans-serif' font-size="7.5" fill="#111" stroke="#111" stroke-width="0.22" transform="rotate(0.03 409.2 16.3)"><tspan font-style="italic">t</tspan> = 3.00<tspan font-style="italic">T</tspan><tspan font-style="italic" font-size="5.25" dy="1.2" stroke-width="0.1">p</tspan></text>
<line x1="388" y1="24.3" x2="404.7" y2="24.3" stroke="#ff0000" stroke-width="0.8" stroke-linecap="butt"/>
<text x="409.2" y="27.1" font-family='"Liberation Sans", sans-serif' font-size="7.5" fill="#111" stroke="#111" stroke-width="0.22" transform="rotate(0.03 409.2 27.1)"><tspan font-style="italic">t</tspan> = 3.25<tspan font-style="italic">T</tspan><tspan font-style="italic" font-size="5.25" dy="1.2" stroke-width="0.1">p</tspan></text>
<line x1="388" y1="35.1" x2="404.7" y2="35.1" stroke="#00ff00" stroke-width="0.8" stroke-linecap="butt"/>
<text x="409.2" y="37.9" font-family='"Liberation Sans", sans-serif' font-size="7.5" fill="#111" stroke="#111" stroke-width="0.22" transform="rotate(0.03 409.2 37.9)"><tspan font-style="italic">t</tspan> = 3.50<tspan font-style="italic">T</tspan><tspan font-style="italic" font-size="5.25" dy="1.2" stroke-width="0.1">p</tspan></text>
<line x1="388" y1="45.9" x2="404.7" y2="45.9" stroke="#0000ff" stroke-width="0.8" stroke-linecap="butt"/>
<text x="409.2" y="48.7" font-family='"Liberation Sans", sans-serif' font-size="7.5" fill="#111" stroke="#111" stroke-width="0.22" transform="rotate(0.03 409.2 48.7)"><tspan font-style="italic">t</tspan> = 3.75<tspan font-style="italic">T</tspan><tspan font-style="italic" font-size="5.25" dy="1.2" stroke-width="0.1">p</tspan></text>
<line x1="388" y1="56.7" x2="404.7" y2="56.7" stroke="#ff00ff" stroke-width="0.8" stroke-linecap="butt"/>
<text x="409.2" y="59.5" font-family='"Liberation Sans", sans-serif' font-size="7.5" fill="#111" stroke="#111" stroke-width="0.22" transform="rotate(0.03 409.2 59.5)"><tspan font-style="italic">t</tspan> = 4.00<tspan font-style="italic">T</tspan><tspan font-style="italic" font-size="5.25" dy="1.2" stroke-width="0.1">p</tspan></text>
</g>
<g id="panel-d">
<polyline points="36.3,194.4 39.79,194.4 40.49,194.4 41.13,193.8 41.78,193.16 42.42,192.45 43.06,191.7 43.7,190.96 44.34,190.25 44.98,189.61 45.62,189.01 49.81,189.01 50.45,188.41 51.1,187.77 51.74,187.06 52.38,186.31 53.02,185.57 53.66,184.86 54.3,184.22 54.94,183.62 59.13,183.62 59.77,183.02 60.42,182.38 61.06,181.67 61.7,180.93 62.34,180.18 62.98,179.47 63.62,178.83 64.26,178.23 68.45,178.23 69.09,177.63 69.74,176.99 70.38,176.28 71.02,175.53 71.66,174.79 72.3,174.08 72.94,173.44 73.58,172.84 77.77,172.84 78.41,172.24 79.06,171.6 79.7,170.89 80.34,170.15 80.98,169.4 81.62,168.69 82.26,168.05 82.9,167.45 87.09,167.45 87.73,166.85 88.38,166.21 89.02,165.5 89.66,164.75 90.3,164.01 90.94,163.3 91.58,162.66 92.22,162.06 96.41,162.06 97.05,161.46 97.7,160.82 98.34,160.11 98.98,159.37 99.62,158.62 100.26,157.91 100.9,157.27 101.54,156.67 105.73,156.67 106.37,156.07 107.02,155.43 107.66,154.72 108.3,153.98 108.94,153.23 109.58,152.52 110.22,151.88 110.86,151.28 115.05,151.28 115.69,150.68 116.34,150.04 116.98,149.33 117.62,148.59 118.26,147.84 118.9,147.13 119.54,146.49 120.18,145.89 124.37,145.89 125.01,145.29 125.66,144.65 126.3,143.94 126.94,143.19 127.58,142.45 128.22,141.74 128.86,141.1 129.5,140.5" fill="none" stroke="#0000ff" stroke-width="1.05" stroke-linejoin="round" stroke-linecap="round"/>
<polyline points="36.3,224 37.7,223.6 40.96,222.65 45.62,222.65 46.23,222.05 46.84,221.4 47.45,220.7 48.07,219.95 48.68,219.2 49.29,218.5 49.9,217.85 50.51,217.25 54.94,217.25 55.55,216.65 56.16,216 56.77,215.3 57.39,214.55 58,213.8 58.61,213.1 59.22,212.45 59.83,211.85 64.26,211.85 64.87,211.25 65.48,210.6 66.09,209.9 66.71,209.15 67.32,208.4 67.93,207.7 68.54,207.05 69.15,206.45 73.58,206.45 74.19,205.85 74.8,205.2 75.41,204.5 76.03,203.75 76.64,203 77.25,202.3 77.86,201.65 78.47,201.05 82.9,201.05 83.51,200.45 84.12,199.8 84.73,199.1 85.35,198.35 85.96,197.6 86.57,196.9 87.18,196.25 87.79,195.65 92.22,195.65 92.83,195.05 93.44,194.4 94.05,193.7 94.67,192.95 95.28,192.2 95.89,191.5 96.5,190.85 97.11,190.25 101.54,190.25 102.15,189.65 102.76,189 103.37,188.3 103.99,187.55 104.6,186.8 105.21,186.1 105.82,185.45 106.43,184.85 110.86,184.85 111.47,184.25 112.08,183.6 112.69,182.9 113.31,182.15 113.92,181.4 114.53,180.7 115.14,180.05 115.75,179.45 120.18,179.45 120.79,178.85 121.4,178.2 122.01,177.5 122.63,176.75 123.24,176 123.85,175.3 124.46,174.65 125.07,174.05 129.5,174.05" fill="none" stroke="#ff0000" stroke-width="1.05" stroke-linejoin="round" stroke-linecap="round"/>
<rect x="31.5" y="134.3" width="110.2" height="92" fill="none" stroke="#101010" stroke-width="1.2"/>
<line x1="36.3" y1="226.3" x2="36.3" y2="224.4" stroke="#101010" stroke-width="1.2" stroke-linecap="butt"/>
<line x1="59.6" y1="226.3" x2="59.6" y2="224.4" stroke="#101010" stroke-width="1.2" stroke-linecap="butt"/>
<line x1="82.9" y1="226.3" x2="82.9" y2="224.4" stroke="#101010" stroke-width="1.2" stroke-linecap="butt"/>
<line x1="106.2" y1="226.3" x2="106.2" y2="224.4" stroke="#101010" stroke-width="1.2" stroke-linecap="butt"/>
<line x1="129.5" y1="226.3" x2="129.5" y2="224.4" stroke="#101010" stroke-width="1.2" stroke-linecap="butt"/>
<line x1="47.95" y1="226.3" x2="47.95" y2="225.2" stroke="#101010" stroke-width="1.2" stroke-linecap="butt"/>
<line x1="71.25" y1="226.3" x2="71.25" y2="225.2" stroke="#101010" stroke-width="1.2" stroke-linecap="butt"/>
<line x1="94.55" y1="226.3" x2="94.55" y2="225.2" stroke="#101010" stroke-width="1.2" stroke-linecap="butt"/>
<line x1="117.85" y1="226.3" x2="117.85" y2="225.2" stroke="#101010" stroke-width="1.2" stroke-linecap="butt"/>
<text x="36.7" y="234.2" font-family='"Liberation Sans", sans-serif' font-size="7.7" text-anchor="middle" fill="#111" stroke="#111" stroke-width="0.22" transform="rotate(0.03 36.7 234.2)">0</text>
<text x="60" y="234.2" font-family='"Liberation Sans", sans-serif' font-size="7.7" text-anchor="middle" fill="#111" stroke="#111" stroke-width="0.22" transform="rotate(0.03 60 234.2)">5</text>
<text x="83.3" y="234.2" font-family='"Liberation Sans", sans-serif' font-size="7.7" text-anchor="middle" fill="#111" stroke="#111" stroke-width="0.22" transform="rotate(0.03 83.3 234.2)">10</text>
<text x="106.6" y="234.2" font-family='"Liberation Sans", sans-serif' font-size="7.7" text-anchor="middle" fill="#111" stroke="#111" stroke-width="0.22" transform="rotate(0.03 106.6 234.2)">15</text>
<text x="129.9" y="234.2" font-family='"Liberation Sans", sans-serif' font-size="7.7" text-anchor="middle" fill="#111" stroke="#111" stroke-width="0.22" transform="rotate(0.03 129.9 234.2)">20</text>
<line x1="31.5" y1="224" x2="33.4" y2="224" stroke="#101010" stroke-width="1.2" stroke-linecap="butt"/>
<line x1="31.5" y1="209" x2="33.4" y2="209" stroke="#101010" stroke-width="1.2" stroke-linecap="butt"/>
<line x1="31.5" y1="194" x2="33.4" y2="194" stroke="#101010" stroke-width="1.2" stroke-linecap="butt"/>
<line x1="31.5" y1="179" x2="33.4" y2="179" stroke="#101010" stroke-width="1.2" stroke-linecap="butt"/>
<line x1="31.5" y1="164" x2="33.4" y2="164" stroke="#101010" stroke-width="1.2" stroke-linecap="butt"/>
<line x1="31.5" y1="149" x2="33.4" y2="149" stroke="#101010" stroke-width="1.2" stroke-linecap="butt"/>
<line x1="31.5" y1="134" x2="33.4" y2="134" stroke="#101010" stroke-width="1.2" stroke-linecap="butt"/>
<line x1="31.5" y1="216.5" x2="32.6" y2="216.5" stroke="#101010" stroke-width="1.2" stroke-linecap="butt"/>
<line x1="31.5" y1="201.5" x2="32.6" y2="201.5" stroke="#101010" stroke-width="1.2" stroke-linecap="butt"/>
<line x1="31.5" y1="186.5" x2="32.6" y2="186.5" stroke="#101010" stroke-width="1.2" stroke-linecap="butt"/>
<line x1="31.5" y1="171.5" x2="32.6" y2="171.5" stroke="#101010" stroke-width="1.2" stroke-linecap="butt"/>
<line x1="31.5" y1="156.5" x2="32.6" y2="156.5" stroke="#101010" stroke-width="1.2" stroke-linecap="butt"/>
<line x1="31.5" y1="141.5" x2="32.6" y2="141.5" stroke="#101010" stroke-width="1.2" stroke-linecap="butt"/>
<text x="29.8" y="226.8" font-family='"Liberation Sans", sans-serif' font-size="7.7" text-anchor="end" fill="#111" stroke="#111" stroke-width="0.22" transform="rotate(0.03 29.8 226.8)">0</text>
<text x="29.8" y="211.8" font-family='"Liberation Sans", sans-serif' font-size="7.7" text-anchor="end" fill="#111" stroke="#111" stroke-width="0.22" transform="rotate(0.03 29.8 211.8)">30</text>
<text x="29.8" y="196.8" font-family='"Liberation Sans", sans-serif' font-size="7.7" text-anchor="end" fill="#111" stroke="#111" stroke-width="0.22" transform="rotate(0.03 29.8 196.8)">60</text>
<text x="29.8" y="181.8" font-family='"Liberation Sans", sans-serif' font-size="7.7" text-anchor="end" fill="#111" stroke="#111" stroke-width="0.22" transform="rotate(0.03 29.8 181.8)">90</text>
<text x="29.8" y="166.8" font-family='"Liberation Sans", sans-serif' font-size="7.7" text-anchor="end" fill="#111" stroke="#111" stroke-width="0.22" transform="rotate(0.03 29.8 166.8)">120</text>
<text x="29.8" y="151.8" font-family='"Liberation Sans", sans-serif' font-size="7.7" text-anchor="end" fill="#111" stroke="#111" stroke-width="0.22" transform="rotate(0.03 29.8 151.8)">150</text>
<text x="29.8" y="136.8" font-family='"Liberation Sans", sans-serif' font-size="7.7" text-anchor="end" fill="#111" stroke="#111" stroke-width="0.22" transform="rotate(0.03 29.8 136.8)">180</text>
<text x="86.6" y="247.9" font-family='"Liberation Sans", sans-serif' font-size="10" font-style="italic" text-anchor="middle" fill="#111" stroke="#111" stroke-width="0.22" transform="rotate(0.03 86.6 247.9)">T<tspan font-size="6.5" dy="2.5" stroke-width="0.12">p</tspan></text>
<text x="12.7" y="181.8" font-family='"Liberation Sans", sans-serif' font-size="10.7" text-anchor="middle" fill="#111" stroke="#111" stroke-width="0.22" transform="rotate(-90 12.7 181.8)"><tspan font-style="italic">X</tspan><tspan font-style="italic" font-size="6.4" dy="3" stroke-width="0.12">d</tspan><tspan dy="-3" font-size="1">&#8203;</tspan>, <tspan font-style="italic">X</tspan><tspan font-style="italic" font-size="6.4" dy="3" stroke-width="0.12">u</tspan><tspan dy="-3" font-size="1">&#8203;</tspan></text>
<text x="67.9" y="144.3" font-family='"Liberation Serif", serif' font-size="11.8" letter-spacing="0.4" fill="#111" stroke="#111" stroke-width="0.2" transform="rotate(0.03 67.9 144.3)">(d)</text>
<line x1="35.4" y1="141.7" x2="52.6" y2="141.7" stroke="#ff0000" stroke-width="1.2" stroke-linecap="butt"/>
<text x="55.1" y="144.2" font-family='"Liberation Sans", sans-serif' font-size="8.2" font-style="italic" fill="#111" stroke="#111" stroke-width="0.22" transform="rotate(0.03 55.1 144.2)">X<tspan font-size="5.25" dy="1.8" stroke-width="0.1">u</tspan></text>
<line x1="35.4" y1="152.4" x2="52.6" y2="152.4" stroke="#0000ff" stroke-width="1.2" stroke-linecap="butt"/>
<text x="55.1" y="154.9" font-family='"Liberation Sans", sans-serif' font-size="8.2" font-style="italic" fill="#111" stroke="#111" stroke-width="0.22" transform="rotate(0.03 55.1 154.9)">X<tspan font-size="5.25" dy="1.8" stroke-width="0.1">d</tspan></text>
</g>
<g id="panel-e">
<polyline points="186.6,201.1 187.13,200.1 187.7,200.1 188.35,201.77 189.23,205.11 190.11,209.45 190.77,212.96 190.98,213.46 191.34,210.12 195.37,151.17 195.63,152.84 199.49,202.77 199.75,206.28 200.02,202.77 203.88,152.17 204.14,148.83 204.4,152.84 208.26,202.77 208.52,206.28 208.79,202.77 212.65,152.17 212.91,148.83 213.17,152.84 217.03,202.77 217.29,206.28 217.56,202.77 221.42,152.17 221.68,148.83 221.94,152.84 225.8,202.77 226.06,206.28 226.33,202.77 230.19,152.17 230.45,148.83 230.71,152.84 234.57,202.77 234.83,206.28 235.1,202.77 238.96,152.17 239.22,148.83 239.48,152.84 243.34,202.77 243.6,206.28 243.87,202.77 247.73,152.17 247.99,148.83 248.25,152.84 252.11,202.77 252.38,206.28 252.64,202.77 256.5,152.17 256.76,148.83 257.02,152.84 260.88,202.77 261.14,206.28 261.41,202.77 265.27,152.17 265.53,148.83 265.79,152.84 269.65,202.77 269.91,206.28 270.18,202.77 274.04,152.17 274.3,148.83" fill="none" stroke="#ff8000" stroke-width="1.1" stroke-linejoin="round" stroke-linecap="round"/>
<rect x="175.4" y="134.3" width="109.95" height="91.95" fill="none" stroke="#101010" stroke-width="1.2"/>
<line x1="186.6" y1="226.25" x2="186.6" y2="224.35" stroke="#101010" stroke-width="1.2" stroke-linecap="butt"/>
<line x1="208.52" y1="226.25" x2="208.52" y2="224.35" stroke="#101010" stroke-width="1.2" stroke-linecap="butt"/>
<line x1="230.45" y1="226.25" x2="230.45" y2="224.35" stroke="#101010" stroke-width="1.2" stroke-linecap="butt"/>
<line x1="252.38" y1="226.25" x2="252.38" y2="224.35" stroke="#101010" stroke-width="1.2" stroke-linecap="butt"/>
<line x1="274.3" y1="226.25" x2="274.3" y2="224.35" stroke="#101010" stroke-width="1.2" stroke-linecap="butt"/>
<line x1="197.56" y1="226.25" x2="197.56" y2="225.15" stroke="#101010" stroke-width="1.2" stroke-linecap="butt"/>
<line x1="219.49" y1="226.25" x2="219.49" y2="225.15" stroke="#101010" stroke-width="1.2" stroke-linecap="butt"/>
<line x1="241.41" y1="226.25" x2="241.41" y2="225.15" stroke="#101010" stroke-width="1.2" stroke-linecap="butt"/>
<line x1="263.34" y1="226.25" x2="263.34" y2="225.15" stroke="#101010" stroke-width="1.2" stroke-linecap="butt"/>
<text x="187" y="234.15" font-family='"Liberation Sans", sans-serif' font-size="7.7" text-anchor="middle" fill="#111" stroke="#111" stroke-width="0.22" transform="rotate(0.03 187 234.15)">0</text>
<text x="208.92" y="234.15" font-family='"Liberation Sans", sans-serif' font-size="7.7" text-anchor="middle" fill="#111" stroke="#111" stroke-width="0.22" transform="rotate(0.03 208.92 234.15)">5</text>
<text x="230.85" y="234.15" font-family='"Liberation Sans", sans-serif' font-size="7.7" text-anchor="middle" fill="#111" stroke="#111" stroke-width="0.22" transform="rotate(0.03 230.85 234.15)">10</text>
<text x="252.78" y="234.15" font-family='"Liberation Sans", sans-serif' font-size="7.7" text-anchor="middle" fill="#111" stroke="#111" stroke-width="0.22" transform="rotate(0.03 252.78 234.15)">15</text>
<text x="274.7" y="234.15" font-family='"Liberation Sans", sans-serif' font-size="7.7" text-anchor="middle" fill="#111" stroke="#111" stroke-width="0.22" transform="rotate(0.03 274.7 234.15)">20</text>
<line x1="175.4" y1="217.8" x2="177.3" y2="217.8" stroke="#101010" stroke-width="1.2" stroke-linecap="butt"/>
<line x1="175.4" y1="201.1" x2="177.3" y2="201.1" stroke="#101010" stroke-width="1.2" stroke-linecap="butt"/>
<line x1="175.4" y1="184.4" x2="177.3" y2="184.4" stroke="#101010" stroke-width="1.2" stroke-linecap="butt"/>
<line x1="175.4" y1="167.7" x2="177.3" y2="167.7" stroke="#101010" stroke-width="1.2" stroke-linecap="butt"/>
<line x1="175.4" y1="151" x2="177.3" y2="151" stroke="#101010" stroke-width="1.2" stroke-linecap="butt"/>
<line x1="175.4" y1="134.3" x2="177.3" y2="134.3" stroke="#101010" stroke-width="1.2" stroke-linecap="butt"/>
<line x1="175.4" y1="209.45" x2="176.5" y2="209.45" stroke="#101010" stroke-width="1.2" stroke-linecap="butt"/>
<line x1="175.4" y1="192.75" x2="176.5" y2="192.75" stroke="#101010" stroke-width="1.2" stroke-linecap="butt"/>
<line x1="175.4" y1="176.05" x2="176.5" y2="176.05" stroke="#101010" stroke-width="1.2" stroke-linecap="butt"/>
<line x1="175.4" y1="159.35" x2="176.5" y2="159.35" stroke="#101010" stroke-width="1.2" stroke-linecap="butt"/>
<line x1="175.4" y1="142.65" x2="176.5" y2="142.65" stroke="#101010" stroke-width="1.2" stroke-linecap="butt"/>
<text x="173.7" y="220.6" font-family='"Liberation Sans", sans-serif' font-size="7.7" text-anchor="end" fill="#111" stroke="#111" stroke-width="0.22" transform="rotate(0.03 173.7 220.6)">0.95</text>
<text x="173.7" y="203.9" font-family='"Liberation Sans", sans-serif' font-size="7.7" text-anchor="end" fill="#111" stroke="#111" stroke-width="0.22" transform="rotate(0.03 173.7 203.9)">1.00</text>
<text x="173.7" y="187.2" font-family='"Liberation Sans", sans-serif' font-size="7.7" text-anchor="end" fill="#111" stroke="#111" stroke-width="0.22" transform="rotate(0.03 173.7 187.2)">1.05</text>
<text x="173.7" y="170.5" font-family='"Liberation Sans", sans-serif' font-size="7.7" text-anchor="end" fill="#111" stroke="#111" stroke-width="0.22" transform="rotate(0.03 173.7 170.5)">1.10</text>
<text x="173.7" y="153.8" font-family='"Liberation Sans", sans-serif' font-size="7.7" text-anchor="end" fill="#111" stroke="#111" stroke-width="0.22" transform="rotate(0.03 173.7 153.8)">1.15</text>
<text x="173.7" y="137.1" font-family='"Liberation Sans", sans-serif' font-size="7.7" text-anchor="end" fill="#111" stroke="#111" stroke-width="0.22" transform="rotate(0.03 173.7 137.1)">1.20</text>
<text x="230.3" y="247.9" font-family='"Liberation Sans", sans-serif' font-size="10" font-style="italic" text-anchor="middle" fill="#111" stroke="#111" stroke-width="0.22" transform="rotate(0.03 230.3 247.9)">T<tspan font-size="6.5" dy="2.5" stroke-width="0.12">p</tspan></text>
<text x="155.5" y="181" font-family='"Liberation Sans", sans-serif' font-size="10" text-anchor="middle" fill="#111" stroke="#111" stroke-width="0.22" transform="rotate(-90 155.5 181)"><tspan font-style="italic">l</tspan></text>
<text x="221.8" y="144.4" font-family='"Liberation Serif", serif' font-size="11.8" letter-spacing="0.4" fill="#111" font-weight="bold" stroke="#111" stroke-width="0.25" transform="rotate(0.03 221.8 144.4)">(e)</text>
<line x1="259.5" y1="141.6" x2="277.1" y2="141.6" stroke="#ff8000" stroke-width="1.2" stroke-linecap="butt"/>
<text x="279.2" y="143.7" font-family='"Liberation Sans", sans-serif' font-size="7.5" font-style="italic" fill="#111" stroke="#111" stroke-width="0.22" transform="rotate(0.03 279.2 143.7)">l</text>
</g>
<g id="panel-f">
<polyline points="326.6,152.5 326.71,152.88 326.81,153.3 326.92,153.76 327.03,154.26 327.13,154.78 327.24,155.34 327.35,155.92 327.45,156.51 327.56,157.12 327.67,157.73 327.77,158.35 327.88,158.95 327.99,159.54 328.1,160.12 328.2,160.66 328.31,161.18 328.42,161.65 328.52,162.09 328.63,162.47 328.74,162.81 328.84,163.09 328.95,163.31 329.06,163.47 329.16,163.57 329.29,163.33 329.42,162.98 329.54,162.52 329.67,161.95 329.8,161.29 329.93,160.54 330.05,159.71 330.18,158.81 330.31,157.85 330.43,156.85 330.56,155.82 330.69,154.78 330.82,153.73 330.94,152.7 331.07,151.7 331.2,150.74 331.32,149.84 331.45,149.01 331.58,148.26 331.71,147.6 331.83,147.03 331.96,146.57 332.09,146.22 332.21,145.98 332.38,146.93 332.54,148.33 332.71,150.15 332.88,152.39 333.04,155.02 333.21,158 333.37,161.3 333.54,164.87 333.71,168.66 333.87,172.63 334.04,176.71 334.2,180.85 334.37,184.99 334.53,189.07 334.7,193.04 334.87,196.83 335.03,200.4 335.2,203.7 335.36,206.69 335.53,209.31 335.69,211.55 335.86,213.38 336.03,214.77 336.19,215.72 336.38,214.81 336.57,213.47 336.76,211.71 336.95,209.56 337.14,207.04 337.33,204.17 337.52,201 337.71,197.57 337.9,193.92 338.09,190.11 338.28,186.18 338.47,182.2 338.66,178.23 338.85,174.3 339.04,170.49 339.23,166.84 339.42,163.41 339.61,160.24 339.8,157.37 339.99,154.85 340.17,152.7 340.36,150.94 340.55,149.6 340.74,148.69 340.92,149.6 341.1,150.94 341.28,152.7 341.46,154.85 341.64,157.37 341.82,160.24 341.99,163.41 342.17,166.84 342.35,170.49 342.53,174.3 342.71,178.23 342.89,182.2 343.07,186.18 343.24,190.11 343.42,193.92 343.6,197.57 343.78,201 343.96,204.17 344.14,207.04 344.32,209.56 344.5,211.71 344.67,213.47 344.85,214.81 345.03,215.72 345.22,214.81 345.41,213.47 345.6,211.71 345.79,209.56 345.98,207.04 346.17,204.17 346.36,201 346.55,197.57 346.74,193.92 346.93,190.11 347.12,186.18 347.31,182.2 347.5,178.23 347.69,174.3 347.88,170.49 348.07,166.84 348.26,163.41 348.45,160.24 348.64,157.37 348.83,154.85 349.01,152.7 349.2,150.94 349.39,149.6 349.58,148.69 349.76,149.6 349.94,150.94 350.12,152.7 350.3,154.85 350.48,157.37 350.66,160.24 350.83,163.41 351.01,166.84 351.19,170.49 351.37,174.3 351.55,178.23 351.73,182.2 351.91,186.18 352.08,190.11 352.26,193.92 352.44,197.57 352.62,201 352.8,204.17 352.98,207.04 353.16,209.56 353.34,211.71 353.51,213.47 353.69,214.81 353.87,215.72 354.06,214.81 354.25,213.47 354.44,211.71 354.63,209.56 354.82,207.04 355.01,204.17 355.2,201 355.39,197.57 355.58,193.92 355.77,190.11 355.96,186.18 356.15,182.2 356.34,178.23 356.53,174.3 356.72,170.49 356.91,166.84 357.1,163.41 357.29,160.24 357.48,157.37 357.67,154.85 357.85,152.7 358.04,150.94 358.23,149.6 358.42,148.69 358.6,149.6 358.78,150.94 358.96,152.7 359.14,154.85 359.32,157.37 359.5,160.24 359.67,163.41 359.85,166.84 360.03,170.49 360.21,174.3 360.39,178.23 360.57,182.2 360.75,186.18 360.92,190.11 361.1,193.92 361.28,197.57 361.46,201 361.64,204.17 361.82,207.04 362,209.56 362.18,211.71 362.35,213.47 362.53,214.81 362.71,215.72 362.9,214.81 363.09,213.47 363.28,211.71 363.47,209.56 363.66,207.04 363.85,204.17 364.04,201 364.23,197.57 364.42,193.92 364.61,190.11 364.8,186.18 364.99,182.2 365.18,178.23 365.37,174.3 365.56,170.49 365.75,166.84 365.94,163.41 366.13,160.24 366.32,157.37 366.51,154.85 366.69,152.7 366.88,150.94 367.07,149.6 367.26,148.69 367.44,149.6 367.62,150.94 367.8,152.7 367.98,154.85 368.16,157.37 368.34,160.24 368.51,163.41 368.69,166.84 368.87,170.49 369.05,174.3 369.23,178.23 369.41,182.2 369.59,186.18 369.76,190.11 369.94,193.92 370.12,197.57 370.3,201 370.48,204.17 370.66,207.04 370.84,209.56 371.02,211.71 371.19,213.47 371.37,214.81 371.55,215.72 371.74,214.81 371.93,213.47 372.12,211.71 372.31,209.56 372.5,207.04 372.69,204.17 372.88,201 373.07,197.57 373.26,193.92 373.45,190.11 373.64,186.18 373.83,182.2 374.02,178.23 374.21,174.3 374.4,170.49 374.59,166.84 374.78,163.41 374.97,160.24 375.16,157.37 375.35,154.85 375.53,152.7 375.72,150.94 375.91,149.6 376.1,148.69 376.28,149.6 376.46,150.94 376.64,152.7 376.82,154.85 377,157.37 377.18,160.24 377.35,163.41 377.53,166.84 377.71,170.49 377.89,174.3 378.07,178.23 378.25,182.2 378.43,186.18 378.6,190.11 378.78,193.92 378.96,197.57 379.14,201 379.32,204.17 379.5,207.04 379.68,209.56 379.86,211.71 380.03,213.47 380.21,214.81 380.39,215.72 380.58,214.81 380.77,213.47 380.96,211.71 381.15,209.56 381.34,207.04 381.53,204.17 381.72,201 381.91,197.57 382.1,193.92 382.29,190.11 382.48,186.18 382.67,182.2 382.86,178.23 383.05,174.3 383.24,170.49 383.43,166.84 383.62,163.41 383.81,160.24 384,157.37 384.19,154.85 384.37,152.7 384.56,150.94 384.75,149.6 384.94,148.69 385.12,149.6 385.3,150.94 385.48,152.7 385.66,154.85 385.84,157.37 386.02,160.24 386.19,163.41 386.37,166.84 386.55,170.49 386.73,174.3 386.91,178.23 387.09,182.2 387.27,186.18 387.44,190.11 387.62,193.92 387.8,197.57 387.98,201 388.16,204.17 388.34,207.04 388.52,209.56 388.7,211.71 388.87,213.47 389.05,214.81 389.23,215.72 389.42,214.81 389.61,213.47 389.8,211.71 389.99,209.56 390.18,207.04 390.37,204.17 390.56,201 390.75,197.57 390.94,193.92 391.13,190.11 391.32,186.18 391.51,182.2 391.7,178.23 391.89,174.3 392.08,170.49 392.27,166.84 392.46,163.41 392.65,160.24 392.84,157.37 393.03,154.85 393.21,152.7 393.4,150.94 393.59,149.6 393.78,148.69 393.96,149.6 394.14,150.94 394.32,152.7 394.5,154.85 394.68,157.37 394.86,160.24 395.03,163.41 395.21,166.84 395.39,170.49 395.57,174.3 395.75,178.23 395.93,182.2 396.11,186.18 396.28,190.11 396.46,193.92 396.64,197.57 396.82,201 397,204.17 397.18,207.04 397.36,209.56 397.54,211.71 397.71,213.47 397.89,214.81 398.07,215.72 398.26,214.81 398.45,213.47 398.64,211.71 398.83,209.56 399.02,207.04 399.21,204.17 399.4,201 399.59,197.57 399.78,193.92 399.97,190.11 400.16,186.18 400.35,182.2 400.54,178.23 400.73,174.3 400.92,170.49 401.11,166.84 401.3,163.41 401.49,160.24 401.68,157.37 401.87,154.85 402.05,152.7 402.24,150.94 402.43,149.6 402.62,148.69 402.8,149.6 402.98,150.94 403.16,152.7 403.34,154.85 403.52,157.37 403.7,160.24 403.87,163.41 404.05,166.84 404.23,170.49 404.41,174.3 404.59,178.23 404.77,182.2 404.95,186.18 405.12,190.11 405.3,193.92 405.48,197.57 405.66,201 405.84,204.17 406.02,207.04 406.2,209.56 406.38,211.71 406.55,213.47 406.73,214.81 406.91,215.72 407.1,214.81 407.29,213.47 407.48,211.71 407.67,209.56 407.86,207.04 408.05,204.17 408.24,201 408.43,197.57 408.62,193.92 408.81,190.11 409,186.18 409.19,182.2 409.38,178.23 409.57,174.3 409.76,170.49 409.95,166.84 410.14,163.41 410.33,160.24 410.52,157.37 410.71,154.85 410.89,152.7 411.08,150.94 411.27,149.6 411.46,148.69 411.64,149.6 411.82,150.94 412,152.7 412.18,154.85 412.36,157.37 412.54,160.24 412.71,163.41 412.89,166.84 413.07,170.49 413.25,174.3 413.43,178.23 413.61,182.2 413.79,186.18 413.96,190.11 414.14,193.92 414.32,197.57 414.5,201 414.68,204.17 414.86,207.04 415.04,209.56 415.22,211.71" fill="none" stroke="#1c951c" stroke-width="1.25" stroke-linejoin="round" stroke-linecap="round"/>
<rect x="316.35" y="134.3" width="109.75" height="92.1" fill="none" stroke="#101010" stroke-width="1.2"/>
<line x1="326.6" y1="226.4" x2="326.6" y2="224.5" stroke="#101010" stroke-width="1.2" stroke-linecap="butt"/>
<line x1="348.7" y1="226.4" x2="348.7" y2="224.5" stroke="#101010" stroke-width="1.2" stroke-linecap="butt"/>
<line x1="370.8" y1="226.4" x2="370.8" y2="224.5" stroke="#101010" stroke-width="1.2" stroke-linecap="butt"/>
<line x1="392.9" y1="226.4" x2="392.9" y2="224.5" stroke="#101010" stroke-width="1.2" stroke-linecap="butt"/>
<line x1="415" y1="226.4" x2="415" y2="224.5" stroke="#101010" stroke-width="1.2" stroke-linecap="butt"/>
<line x1="337.65" y1="226.4" x2="337.65" y2="225.3" stroke="#101010" stroke-width="1.2" stroke-linecap="butt"/>
<line x1="359.75" y1="226.4" x2="359.75" y2="225.3" stroke="#101010" stroke-width="1.2" stroke-linecap="butt"/>
<line x1="381.85" y1="226.4" x2="381.85" y2="225.3" stroke="#101010" stroke-width="1.2" stroke-linecap="butt"/>
<line x1="403.95" y1="226.4" x2="403.95" y2="225.3" stroke="#101010" stroke-width="1.2" stroke-linecap="butt"/>
<text x="327" y="234.3" font-family='"Liberation Sans", sans-serif' font-size="7.7" text-anchor="middle" fill="#111" stroke="#111" stroke-width="0.22" transform="rotate(0.03 327 234.3)">0</text>
<text x="349.1" y="234.3" font-family='"Liberation Sans", sans-serif' font-size="7.7" text-anchor="middle" fill="#111" stroke="#111" stroke-width="0.22" transform="rotate(0.03 349.1 234.3)">5</text>
<text x="371.2" y="234.3" font-family='"Liberation Sans", sans-serif' font-size="7.7" text-anchor="middle" fill="#111" stroke="#111" stroke-width="0.22" transform="rotate(0.03 371.2 234.3)">10</text>
<text x="393.3" y="234.3" font-family='"Liberation Sans", sans-serif' font-size="7.7" text-anchor="middle" fill="#111" stroke="#111" stroke-width="0.22" transform="rotate(0.03 393.3 234.3)">15</text>
<text x="415.4" y="234.3" font-family='"Liberation Sans", sans-serif' font-size="7.7" text-anchor="middle" fill="#111" stroke="#111" stroke-width="0.22" transform="rotate(0.03 415.4 234.3)">20</text>
<line x1="316.35" y1="214" x2="318.25" y2="214" stroke="#101010" stroke-width="1.2" stroke-linecap="butt"/>
<line x1="316.35" y1="195.55" x2="318.25" y2="195.55" stroke="#101010" stroke-width="1.2" stroke-linecap="butt"/>
<line x1="316.35" y1="177.1" x2="318.25" y2="177.1" stroke="#101010" stroke-width="1.2" stroke-linecap="butt"/>
<line x1="316.35" y1="158.65" x2="318.25" y2="158.65" stroke="#101010" stroke-width="1.2" stroke-linecap="butt"/>
<line x1="316.35" y1="140.2" x2="318.25" y2="140.2" stroke="#101010" stroke-width="1.2" stroke-linecap="butt"/>
<line x1="316.35" y1="223.23" x2="317.45" y2="223.23" stroke="#101010" stroke-width="1.2" stroke-linecap="butt"/>
<line x1="316.35" y1="204.77" x2="317.45" y2="204.77" stroke="#101010" stroke-width="1.2" stroke-linecap="butt"/>
<line x1="316.35" y1="186.33" x2="317.45" y2="186.33" stroke="#101010" stroke-width="1.2" stroke-linecap="butt"/>
<line x1="316.35" y1="167.88" x2="317.45" y2="167.88" stroke="#101010" stroke-width="1.2" stroke-linecap="butt"/>
<line x1="316.35" y1="149.43" x2="317.45" y2="149.43" stroke="#101010" stroke-width="1.2" stroke-linecap="butt"/>
<text x="314.65" y="216.8" font-family='"Liberation Sans", sans-serif' font-size="7.7" text-anchor="end" fill="#111" stroke="#111" stroke-width="0.22" transform="rotate(0.03 314.65 216.8)">0.90</text>
<text x="314.65" y="198.35" font-family='"Liberation Sans", sans-serif' font-size="7.7" text-anchor="end" fill="#111" stroke="#111" stroke-width="0.22" transform="rotate(0.03 314.65 198.35)">0.93</text>
<text x="314.65" y="179.9" font-family='"Liberation Sans", sans-serif' font-size="7.7" text-anchor="end" fill="#111" stroke="#111" stroke-width="0.22" transform="rotate(0.03 314.65 179.9)">0.96</text>
<text x="314.65" y="161.45" font-family='"Liberation Sans", sans-serif' font-size="7.7" text-anchor="end" fill="#111" stroke="#111" stroke-width="0.22" transform="rotate(0.03 314.65 161.45)">0.99</text>
<text x="314.65" y="143" font-family='"Liberation Sans", sans-serif' font-size="7.7" text-anchor="end" fill="#111" stroke="#111" stroke-width="0.22" transform="rotate(0.03 314.65 143)">1.02</text>
<text x="371.6" y="247.9" font-family='"Liberation Sans", sans-serif' font-size="10" font-style="italic" text-anchor="middle" fill="#111" stroke="#111" stroke-width="0.22" transform="rotate(0.03 371.6 247.9)">T<tspan font-size="6.5" dy="2.5" stroke-width="0.12">p</tspan></text>
<text x="297" y="179.9" font-family='"Liberation Sans", sans-serif' font-size="10" text-anchor="middle" fill="#111" stroke="#111" stroke-width="0.22" transform="rotate(-90 297 179.9)"><tspan font-style="italic">h</tspan><tspan font-style="italic" font-size="6.4" dy="-4.2">*</tspan></text>
<text x="373.4" y="144.4" font-family='"Liberation Serif", serif' font-size="11.8" letter-spacing="0.4" fill="#111" stroke="#111" stroke-width="0.2" transform="rotate(0.03 373.4 144.4)">(f)</text>
<line x1="394.8" y1="141.9" x2="412.1" y2="141.9" stroke="#1c951c" stroke-width="1.3" stroke-linecap="butt"/>
<text x="414" y="144.7" font-family='"Liberation Sans", sans-serif' font-size="7.6" font-style="italic" fill="#111" stroke="#111" stroke-width="0.22" transform="rotate(0.03 414 144.7)">h<tspan font-size="4.86" dy="-3.19" stroke-width="0.1">*</tspan></text>
</g>
</svg>
</body></html>
